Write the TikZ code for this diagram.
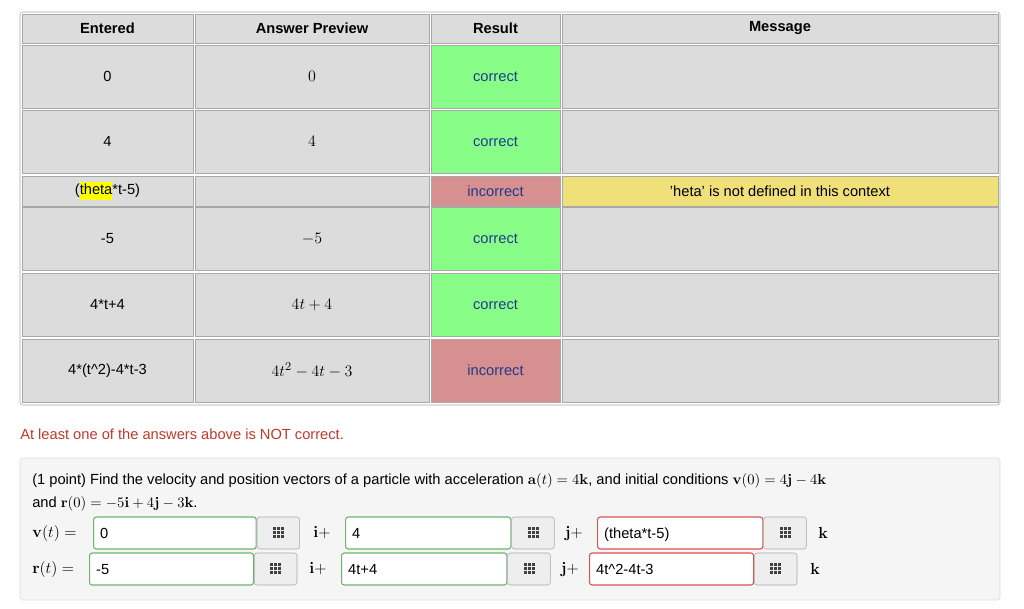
\documentclass[tikz,border=0pt]{standalone}
\usepackage[no-math]{fontspec}
\setmainfont{Liberation Sans}
\usepackage{amsmath}
\usepackage{xcolor}
\usepackage{tikz}
\usetikzlibrary{positioning, calc}

\definecolor{cellgray}{HTML}{DCDCDC}
\definecolor{cellline}{HTML}{A8A8A8}
\definecolor{okgreen}{HTML}{88FE88}
\definecolor{badred}{HTML}{D69090}
\definecolor{msgyellow}{HTML}{F0E07A}
\definecolor{hilite}{HTML}{FFFF00}
\definecolor{resblue}{HTML}{1F3A8C}
\definecolor{warnred}{HTML}{C0392B}
\definecolor{panelfill}{HTML}{F5F5F5}
\definecolor{panelline}{HTML}{DDDDDD}
\definecolor{goodedge}{HTML}{6DB36D}
\definecolor{badedge}{HTML}{D9534F}
\definecolor{btnfill}{HTML}{EEEEEE}

\newcommand{\hl}[1]{{\setlength{\fboxsep}{0pt}\colorbox{hilite}{\strut #1}}}

\tikzset{
  cell/.style={draw=cellline, fill=cellgray, inner sep=0pt, font=\fontsize{11}{13}\selectfont},
  headcell/.style={cell, font=\fontsize{11}{13}\selectfont\bfseries, minimum height=21.75pt},
  tallrow/.style={minimum height=47.25pt},
  thinrow/.style={minimum height=22.5pt},
  colA/.style={minimum width=128.25pt},
  colB/.style={minimum width=175.5pt},
  colC/.style={minimum width=96.75pt},
  colD/.style={minimum width=327pt},
  good/.style={fill=okgreen, text=resblue},
  bad/.style={fill=badred, text=resblue},
  inbox/.style={draw, fill=white, rounded corners=2pt, line width=0.8pt, minimum height=24pt, inner sep=5pt, anchor=west, text depth=0pt, font=\fontsize{11}{13}\selectfont},
  okbox/.style={inbox, draw=goodedge},
  errbox/.style={inbox, draw=badedge},
  gridbtn/.style={draw=cellline, fill=btnfill, rounded corners=2pt, minimum width=32pt, minimum height=24pt, anchor=west},
  mathlbl/.style={font=\fontsize{12}{14}\selectfont, inner sep=0pt}
}

\newcommand{\gridicon}[1]{%
  \foreach \i in {-1,0,1} \foreach \j in {-1,0,1}
    \fill[black!75] ($(#1)+(\i*3pt-1pt,\j*3pt-1pt)$) rectangle ++(2.2pt,2.2pt);}

\begin{document}
\begin{tikzpicture}[x=0.75pt, y=-0.75pt]
  \useasboundingbox (0,0) rectangle (1024,609);

  % Table
  \draw[cellline, rounded corners=2pt] (20,12) rectangle (1000,405);

  \node[headcell, colA] (hA) at (107.5,28.5) {Entered};
  \node[headcell, colB] (hB) at (312,28.5) {Answer Preview};
  \node[headcell, colC] (hC) at (495.5,28.5) {Result};
  \node[headcell, colD] (hD) at (780,28.5) {Message};

  % Row 1
  \node[cell, colA, tallrow] (a1) at (107.5,76.5) {0};
  \node[cell, colB, tallrow, font=\fontsize{12.5}{14}\selectfont] (b1) at (312,76.5) {$0$};
  \node[cell, colC, tallrow, good] (c1) at (495.5,76.5) {correct};
  \node[cell, colD, tallrow] (d1) at (780,76.5) {};

  % Row 2
  \node[cell, colA, tallrow] (a2) at (107.5,141.5) {4};
  \node[cell, colB, tallrow, font=\fontsize{12.5}{14}\selectfont] (b2) at (312,141.5) {$4$};
  \node[cell, colC, tallrow, good] (c2) at (495.5,141.5) {correct};
  \node[cell, colD, tallrow] (d2) at (780,141.5) {};

  % Row 3
  \node[cell, colA, thinrow] (a3) at (107.5,191) {(\hl{theta}*t-5)};
  \node[cell, colB, thinrow] (b3) at (312,191) {};
  \node[cell, colC, thinrow, bad] (c3) at (495.5,191) {incorrect};
  \node[cell, colD, thinrow, fill=msgyellow] (d3) at (780,191) {'heta' is not defined in this context};

  % Row 4
  \node[cell, colA, tallrow] (a4) at (107.5,239) {-5};
  \node[cell, colB, tallrow, font=\fontsize{12.5}{14}\selectfont] (b4) at (312,239) {$-5$};
  \node[cell, colC, tallrow, good] (c4) at (495.5,239) {correct};
  \node[cell, colD, tallrow] (d4) at (780,239) {};

  % Row 5
  \node[cell, colA, tallrow] (a5) at (107.5,304.5) {4*t+4};
  \node[cell, colB, tallrow, font=\fontsize{12.5}{14}\selectfont] (b5) at (312,304.5) {$4t+4$};
  \node[cell, colC, tallrow, good] (c5) at (495.5,304.5) {correct};
  \node[cell, colD, tallrow] (d5) at (780,304.5) {};

  % Row 6
  \node[cell, colA, tallrow] (a6) at (107.5,370.5) {4*(t\textasciicircum 2)-4*t-3};
  \node[cell, colB, tallrow, font=\fontsize{12.5}{14}\selectfont] (b6) at (312,370.5) {$4t^2-4t-3$};
  \node[cell, colC, tallrow, bad] (c6) at (495.5,370.5) {incorrect};
  \node[cell, colD, tallrow] (d6) at (780,370.5) {};

  % Warning
  \node[anchor=west, inner sep=0pt, text=warnred, font=\fontsize{11}{13}\selectfont] (warn) at (20,434) {At least one of the answers above is NOT correct.};

  % Problem panel
  \draw[panelline, fill=panelfill, rounded corners=2pt] (20,458) rectangle (1000,600);
  \node[anchor=west, inner sep=0pt, font=\fontsize{11}{13}\selectfont] (line1) at (32,481)
    {(1 point) Find the velocity and position vectors of a particle with acceleration $\mathbf{a}(t)=4\mathbf{k}$, and initial conditions $\mathbf{v}(0)=4\mathbf{j}-4\mathbf{k}$};
  \node[anchor=west, inner sep=0pt, font=\fontsize{11}{13}\selectfont] (line2) at (32,504)
    {and $\mathbf{r}(0)=-5\mathbf{i}+4\mathbf{j}-3\mathbf{k}$.};

  % v(t) row
  \node[mathlbl, anchor=west] (vlbl) at (32,533) {$\mathbf{v}(t)=$};
  \node[okbox, minimum width=122pt, text width=112pt] (v1) at (93,533) {0};
  \node[gridbtn] (vb1) at (v1.east) {};
  \node[mathlbl] (vi) at (322,533) {$\mathbf{i}+$};
  \node[okbox, minimum width=124pt, text width=114pt] (v2) at (345,533) {4};
  \node[gridbtn] (vb2) at (v2.east) {};
  \node[mathlbl] (vj) at (574,533) {$\mathbf{j}+$};
  \node[errbox, minimum width=124pt, text width=114pt] (v3) at (597,533) {(theta*t-5)};
  \node[gridbtn] (vb3) at (v3.east) {};
  \node[mathlbl] (vk) at (823,533) {$\mathbf{k}$};

  % r(t) row
  \node[mathlbl, anchor=west] (rlbl) at (32,569) {$\mathbf{r}(t)=$};
  \node[okbox, minimum width=123pt, text width=113pt] (r1) at (89,569) {-5};
  \node[gridbtn] (rb1) at (r1.east) {};
  \node[mathlbl] (ri) at (318,569) {$\mathbf{i}+$};
  \node[okbox, minimum width=124pt, text width=114pt] (r2) at (341,569) {4t+4};
  \node[gridbtn] (rb2) at (r2.east) {};
  \node[mathlbl] (rj) at (570,569) {$\mathbf{j}+$};
  \node[errbox, minimum width=123pt, text width=113pt] (r3) at (589,569) {4t\textasciicircum 2-4t-3};
  \node[gridbtn] (rb3) at (r3.east) {};
  \node[mathlbl] (rk) at (815,569) {$\mathbf{k}$};

  % Grid icons on the buttons
  \foreach \b in {vb1,vb2,vb3,rb1,rb2,rb3} {\gridicon{\b.center}}
\end{tikzpicture}
\end{document}
